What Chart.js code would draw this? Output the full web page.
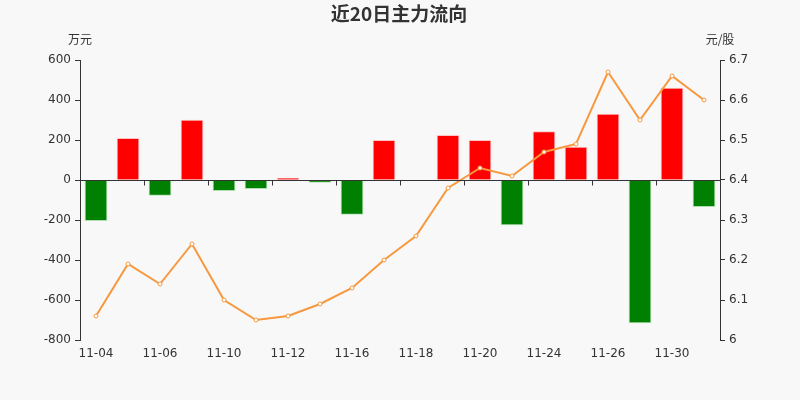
<!DOCTYPE html>
<html>
<head>
<meta charset="utf-8">
<script src="https://cdn.jsdelivr.net/npm/chart.js@4"></script>
<style>
  html, body { margin: 0; padding: 0; background: #f8f8f8; }
  #wrap { width: 800px; height: 400px; position: relative; }
</style>
</head>
<body>
<div id="wrap"><canvas id="chart"></canvas></div>
<script>
'use strict'

// 日期
var dates = ['11-04', '11-05', '11-06', '11-09', '11-10', '11-11', '11-12', '11-13', '11-16', '11-17',
             '11-18', '11-19', '11-20', '11-23', '11-24', '11-25', '11-26', '11-27', '11-30', '12-01']
// 主力净流入 (万元)
var flows = [-203, 208, -77, 300, -53, -43, 8, -12, -172, 198,
             -3, 223, 198, -225, 242, 165, 330, -715, 460, -133]
// 收盘价 (元/股)
var prices = [6.06, 6.19, 6.14, 6.24, 6.10, 6.05, 6.06, 6.09, 6.13, 6.20,
              6.26, 6.38, 6.43, 6.41, 6.47, 6.49, 6.67, 6.55, 6.66, 6.60]

var TEXT = '#333'
var FONT = '"DejaVu Sans", sans-serif'

var barColors = flows.map(function(v) { return v >= 0 ? '#ff0000' : '#008000' })
var barBorders = flows.map(function(v) { return v >= 0 ? 'rgba(255,190,190,0.9)' : 'rgba(170,220,170,0.9)' })

var extras = {
  id: 'extras',
  afterDraw: function(chart) {
    var ctx = chart.ctx
    var x = chart.scales.x
    var y = chart.scales.y
    var area = chart.chartArea
    ctx.save()
    // zero line
    var y0 = Math.round(y.getPixelForValue(0)) + 0.5
    ctx.strokeStyle = TEXT
    ctx.lineWidth = 1
    ctx.beginPath()
    ctx.moveTo(area.left, y0)
    ctx.lineTo(area.right, y0)
    // ticks between every second category
    var half = (x.getPixelForValue(1) - x.getPixelForValue(0)) / 2
    for (var i = 1; i < dates.length - 1; i += 2) {
      var px = Math.round(x.getPixelForValue(i) + half) + 0.5
      ctx.moveTo(px, y0)
      ctx.lineTo(px, y0 + 5)
    }
    ctx.stroke()
    // titles
    ctx.fillStyle = TEXT
    ctx.textAlign = 'center'
    ctx.textBaseline = 'middle'
    ctx.font = 'bold 19px "Noto Sans CJK SC", sans-serif'
    ctx.fillText('近20日主力流向', 399, 14)
    ctx.font = '12px "Noto Sans CJK SC", sans-serif'
    ctx.fillText('万元', area.left, 39)
    ctx.fillText('元/股', area.right, 39)
    ctx.restore()
  }
}

new Chart(document.getElementById('chart').getContext('2d'), {
  data: {
    labels: dates,
    datasets: [
      {
        type: 'line',
        data: prices,
        yAxisID: 'y1',
        borderColor: '#f7983f',
        borderWidth: 2,
        pointRadius: 2,
        pointBackgroundColor: '#ffffff',
        pointBorderColor: '#f7983f',
        pointBorderWidth: 1,
        tension: 0,
        order: 0
      },
      {
        type: 'bar',
        data: flows,
        yAxisID: 'y',
        backgroundColor: barColors,
        borderColor: barBorders,
        borderWidth: 1,
        barThickness: 22,
        order: 1
      }
    ]
  },
  options: {
    responsive: true,
    maintainAspectRatio: false,
    animation: false,
    layout: { padding: { top: 60, left: 0, right: 0, bottom: 0 } },
    plugins: { legend: { display: false }, tooltip: { enabled: false }, title: { display: false } },
    scales: {
      x: {
        grid: { display: false, drawTicks: false },
        border: { display: false },
        ticks: {
          autoSkip: false,
          maxRotation: 0,
          padding: 7,
          color: TEXT,
          font: { family: FONT, size: 12 },
          callback: function(v, i) { return i % 2 === 0 ? dates[i] : '' }
        },
        afterFit: function(s) { s.height = 60 }
      },
      y: {
        position: 'left',
        min: -800, max: 600,
        ticks: { stepSize: 200, padding: 4, color: TEXT, font: { family: FONT, size: 12 } },
        grid: { drawOnChartArea: false, drawTicks: true, tickLength: 5, color: TEXT },
        border: { color: TEXT },
        afterFit: function(s) { s.width = 80 }
      },
      y1: {
        position: 'right',
        min: 6, max: 6.7,
        ticks: { stepSize: 0.1, padding: 4, color: TEXT, font: { family: FONT, size: 12 },
          callback: function(v) { return Math.round(v * 10) / 10 } },
        grid: { drawOnChartArea: false, drawTicks: true, tickLength: 5, color: TEXT },
        border: { color: TEXT },
        afterFit: function(s) { s.width = 80 }
      }
    }
  },
  plugins: [extras]
})
</script>
</body>
</html>
